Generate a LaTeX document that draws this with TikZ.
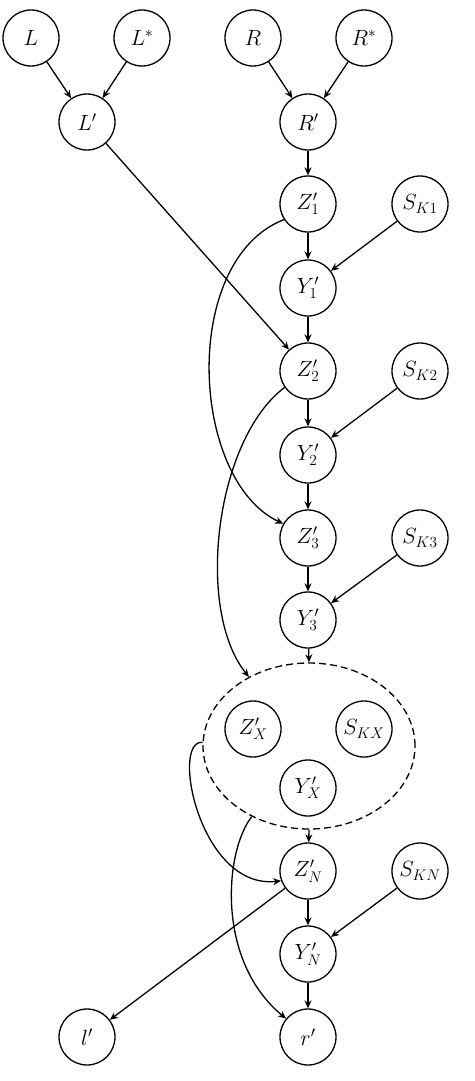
\RequirePackage{fix-cm}
\documentclass[tikz,border=0pt]{standalone}
\usetikzlibrary{arrows.meta,shapes.geometric}
\begin{document}
\begin{tikzpicture}[x=1pt,y=-1pt,
  vnode/.style={circle,draw,line width=1.3pt,minimum size=56pt,inner sep=0pt,font=\fontsize{22}{26}\selectfont},
  arr/.style={line width=1.3pt,-{Stealth[length=8pt,width=7pt]}},
  grp/.style={ellipse,draw,dashed,dash pattern=on 7pt off 4pt,line width=1.3pt,minimum width=212pt,minimum height=166pt,inner sep=0pt}]
\useasboundingbox (0,0) rectangle (474,1081);
\node[grp] (E) at (309,746) {};
\node[vnode] (L) at (31,38) {$L$};
\node[vnode] (Ls) at (142,38) {$L^*$};
\node[vnode] (R) at (253,38) {$R$};
\node[vnode] (Rs) at (364,38) {$R^*$};
\node[vnode] (Lp) at (87,122) {$L'$};
\node[vnode] (Rp) at (308,122) {$R'$};
\node[vnode] (Z1) at (308,204) {$Z'_1$};
\node[vnode] (S1) at (420,204) {$S_{K1}$};
\node[vnode] (Y1) at (308,288) {$Y'_1$};
\node[vnode] (Z2) at (308,371) {$Z'_2$};
\node[vnode] (S2) at (420,371) {$S_{K2}$};
\node[vnode] (Y2) at (308,455) {$Y'_2$};
\node[vnode] (Z3) at (308,538) {$Z'_3$};
\node[vnode] (S3) at (420,538) {$S_{K3}$};
\node[vnode] (Y3) at (308,620) {$Y'_3$};
\node[vnode] (ZX) at (253,729) {$Z'_X$};
\node[vnode] (SX) at (364,729) {$S_{KX}$};
\node[vnode] (YX) at (308,788) {$Y'_X$};
\node[vnode] (ZN) at (308,871) {$Z'_N$};
\node[vnode] (SN) at (420,871) {$S_{KN}$};
\node[vnode] (YN) at (308,954) {$Y'_N$};
\node[vnode] (l) at (87,1037) {$l'$};
\node[vnode] (r) at (308,1037) {$r'$};
\draw[arr] (L) -- (Lp);
\draw[arr] (Ls) -- (Lp);
\draw[arr] (R) -- (Rp);
\draw[arr] (Rs) -- (Rp);
\draw[arr] (Rp) -- (Z1);
\draw[arr] (Z1) -- (Y1);
\draw[arr] (S1) -- (Y1);
\draw[arr] (Y1) -- (Z2);
\draw[arr] (Lp) -- (Z2);
\draw[arr] (Z2) -- (Y2);
\draw[arr] (S2) -- (Y2);
\draw[arr] (Y2) -- (Z3);
\draw[arr] (Z3) -- (Y3);
\draw[arr] (S3) -- (Y3);
\draw[arr] (Y3) -- (E.north);
\draw[arr] (E.south) -- (ZN);
\draw[arr] (ZN) -- (YN);
\draw[arr] (SN) -- (YN);
\draw[arr] (YN) -- (r);
\draw[arr] (ZN) -- (l);
\draw[arr] (Z1.213) .. controls (180,260) and (190,480) .. (Z3.150);
\draw[arr] (Z2.215) .. controls (215,440) and (195,610) .. (E.131);
\draw[arr] (E.178) .. controls (170,740) and (200,890) .. (ZN.200);
\draw[arr] (E.231) .. controls (225,850) and (215,960) .. (r.140);
\end{tikzpicture}
\end{document}
